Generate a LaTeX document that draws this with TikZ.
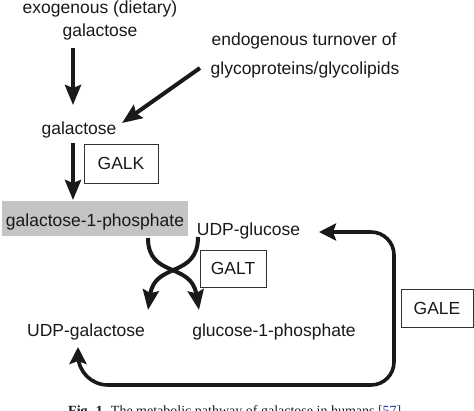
\documentclass[tikz,border=0pt]{standalone}
\usepackage{fontspec}
\setmainfont{Liberation Sans}
\newfontfamily\capfont{Liberation Serif}
\usetikzlibrary{arrows.meta}
\definecolor{boxgray}{RGB}{196,196,196}
\definecolor{edgegray}{RGB}{50,50,50}
\definecolor{refblue}{RGB}{40,40,170}
\definecolor{ink}{RGB}{25,25,25}
\begin{document}
\begin{tikzpicture}[x=1pt,y=-1pt,
  lbl/.style={font=\fontsize{17.5}{21}\selectfont, text=ink, inner sep=0pt, anchor=base},
  ebox/.style={draw=edgegray, line width=0.9pt, inner sep=0pt, text=ink,
               font=\fontsize{17.5}{21}\selectfont},
  arr/.style={draw=ink, line width=4pt, -{Stealth[length=20pt,width=16pt,inset=3pt]}},
  dblarr/.style={draw=ink, line width=3.6pt, {Stealth[length=17pt,width=17pt,inset=3pt]}-{Stealth[length=17pt,width=17pt,inset=3pt]}}
]
\useasboundingbox (0,0) rectangle (474,410);

% texts
\node[lbl] (exo)  at (100,13) {exogenous (dietary)};
\node[lbl] (gal1) at (100,36) {galactose};
\node[lbl] (endo) at (304,45) {endogenous turnover of};
\node[lbl] (glyc) at (305,74) {glycoproteins/glycolipids};
\node[lbl] (gal2) at (79,134) {galactose};
\node[fill=boxgray, minimum width=186pt, minimum height=35pt, inner sep=0pt] (g1pbox) at (95,218.5) {};
\node[lbl] (g1p) at (95,226) {galactose-1-phosphate};
\node[lbl] (udpglc) at (248.5,235) {UDP-glucose};
\node[lbl] (udpgal) at (86,336) {UDP-galactose};
\node[lbl] (glc1p) at (274,336) {glucose-1-phosphate};

% enzyme boxes
\node[ebox, minimum width=74pt, minimum height=39pt] (galk) at (121,163.5) {GALK};
\node[ebox, minimum width=66pt, minimum height=37pt] (galt) at (233,268.5) {GALT};
\node[ebox, minimum width=72pt, minimum height=38pt] (gale) at (437,308) {GALE};

% connector end points
\coordinate (a1s) at (73,48);
\coordinate (a1e) at (73,105);
\coordinate (a2s) at (200,68);
\coordinate (a2e) at (122,123);
\coordinate (a3s) at (73,143);
\coordinate (a3e) at (73,200);
\coordinate (xl) at (148,238);
\coordinate (xr) at (198,237);
\coordinate (xle) at (148,310);
\coordinate (xre) at (199,310);
\coordinate (lpA) at (78,347);
\coordinate (lpB) at (319,232);

% arrows
\draw[arr] (a1s) -- (a1e);
\draw[arr] (a2s) -- (a2e);
\draw[arr] (a3s) -- (a3e);
\draw[arr] (xl) .. controls (148,278) and (191,262) .. (xre);
\draw[arr] (xr) .. controls (198,278) and (155,262) .. (xle);

% GALE loop
\draw[dblarr] (lpA) [rounded corners=30pt] -- (78,385) [rounded corners=23pt] -- (394,385) -- (394,232) -- (lpB);

% caption (cut off at the lower edge, as in the reference)
\node[anchor=north west, inner sep=0pt, text=ink, font=\capfont\fontsize{14}{16}\selectfont] (cap) at (68,405)
  {\textbf{Fig. 1.} The metabolic pathway of galactose in humans \textcolor{refblue}{[57]}};
\end{tikzpicture}
\end{document}
